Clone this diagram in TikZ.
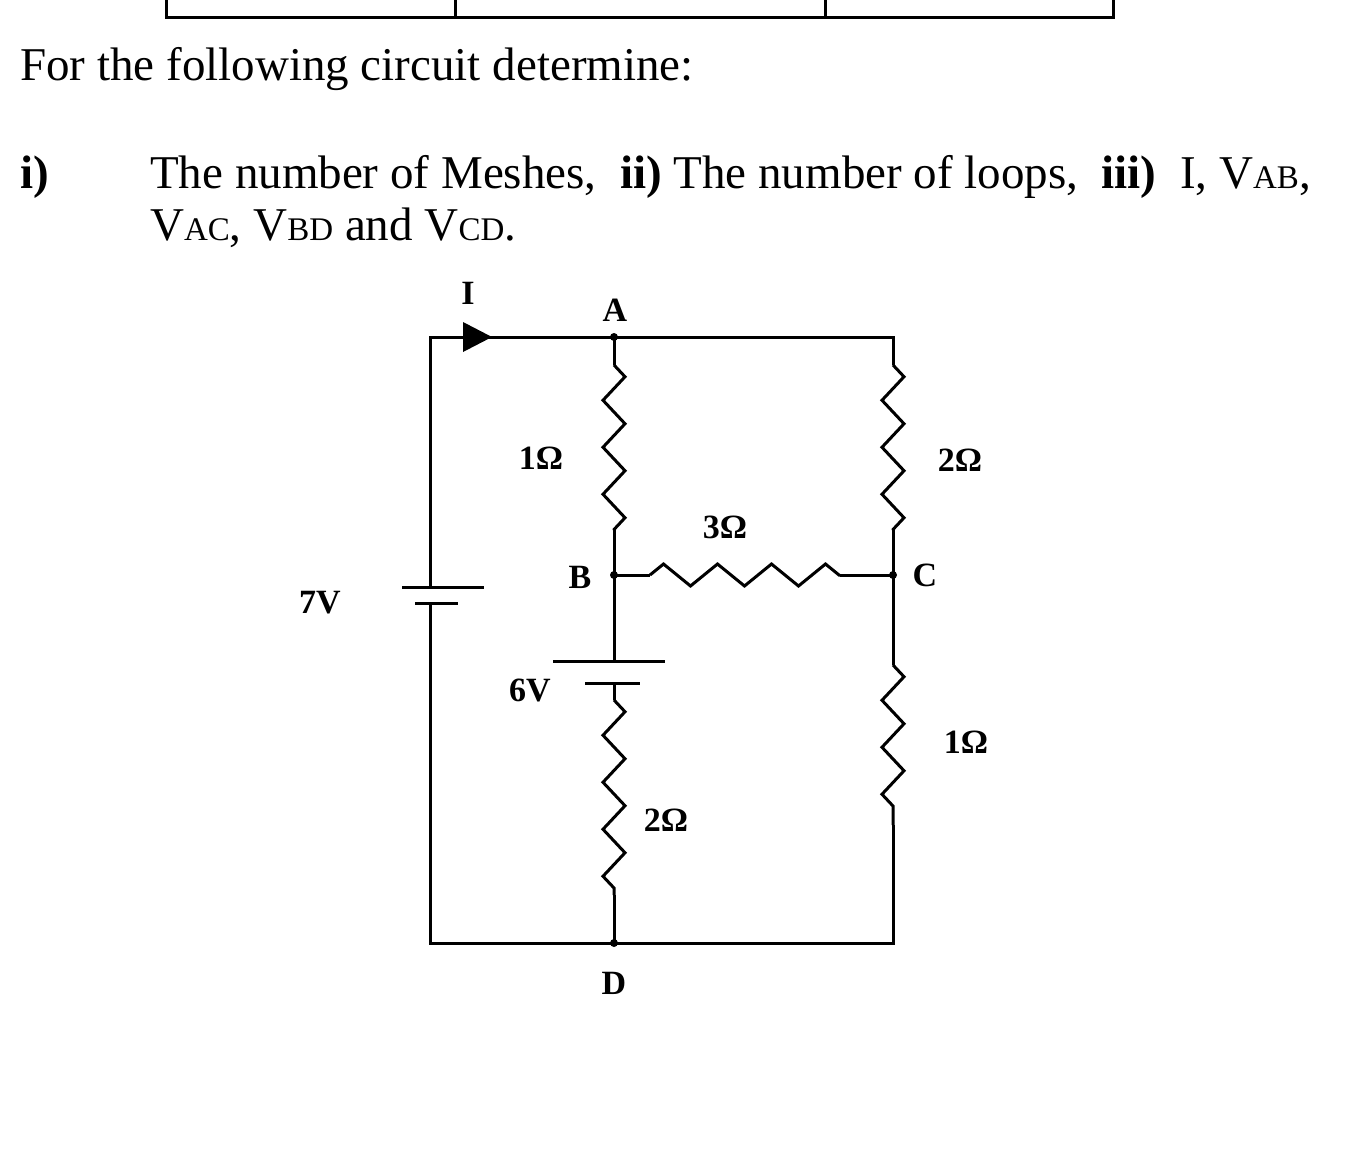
\documentclass[tikz,border=0pt]{standalone}
\usepackage{fontspec}
\setmainfont{Liberation Serif}
\usetikzlibrary{decorations.pathmorphing}
\begin{document}
\begin{tikzpicture}[x=1pt,y=-1pt,
  wire/.style={line width=3pt},
  res/.style={line width=3pt,decorate,decoration={zigzag,segment length=47pt,amplitude=11pt,pre length=0pt,post length=0pt}},
  lbl/.style={font=\fontsize{34}{36}\selectfont\bfseries,inner sep=0pt},
  txt/.style={font=\fontsize{47}{50}\selectfont,inner sep=0pt,anchor=base west},
  dot/.style={circle,fill,inner sep=0pt,minimum size=8pt}]
\useasboundingbox (0,0) rectangle (1368,1168);
% table remnant
\draw[line width=3pt] (166,-5) -- (166,17) -- (1113,17) -- (1113,-5);
\draw[line width=3pt] (455,-5) -- (455,17) (825,-5) -- (825,17);
% text
\node[txt] (t1) at (20,80) {For the following circuit determine:};
\node[txt] (t2) at (20,188) {\textbf{i)}};
\node[txt] (t3) at (150,188) {The number of Meshes,\ \ \textbf{ii)} The number of loops,\ \ \textbf{iii)}\ \ I, V{\fontsize{33}{33}\selectfont AB},};
\node[txt] (t4) at (150,240) {V{\fontsize{33}{33}\selectfont AC}, V{\fontsize{33}{33}\selectfont BD} and V{\fontsize{33}{33}\selectfont CD}.};
% nodes
\coordinate (TL) at (430,337);
\coordinate (A) at (614,337);
\coordinate (TR) at (893,337);
\coordinate (B) at (614,575);
\coordinate (C) at (893,575);
\coordinate (BL) at (430,943);
\coordinate (D) at (614,943);
\coordinate (BR) at (893,943);
% left branch with 7V battery
\coordinate (b7a) at (430,587);
\coordinate (b7b) at (430,603);
\draw[wire] (b7a) -- (TL) -- (TR) -- (893,365);
\draw[wire] (b7b) -- (BL) -- (BR) -- (893,825);
\draw[wire] (402,587) -- (484,587);
\draw[wire] (415,603) -- (458,603);
\fill (463,322) -- (492,337) -- (463,352) -- cycle;
% 1 ohm A-B
\coordinate (r1a) at (614,365); \coordinate (r1b) at (614,530);
\draw[wire] (A) -- (r1a) (r1b) -- (B);
\draw[res] (r1a) -- (r1b);
% 2 ohm right upper
\coordinate (r2a) at (893,365); \coordinate (r2b) at (893,530);
\draw[res] (r2a) -- (r2b);
\draw[wire] (r2b) -- (C) -- (893,665);
% 3 ohm
\coordinate (r3a) at (650,575); \coordinate (r3b) at (840,575);
\draw[wire] (B) -- (r3a) (r3b) -- (C);
\draw[res,decoration={zigzag,segment length=54pt,amplitude=11pt}] (r3a) -- (r3b);
% right lower 1 ohm
\draw[res] (893,665) -- (893,825);
% 6V battery
\draw[wire] (B) -- (614,661);
\draw[wire] (553,661) -- (665,661);
\draw[wire] (585,683) -- (640,683);
\draw[wire] (614,683) -- (614,700);
% 2 ohm lower
\draw[res] (614,700) -- (614,895);
\draw[wire] (614,895) -- (D);
% dots
\node[dot] (dA) at (A) {};
\node[dot] (dB) at (B) {};
\node[dot] (dC) at (C) {};
\node[dot] (dD) at (D) {};
% labels
\node[lbl] (lI) at (468,293) {I};
\node[lbl] (lA) at (615,310) {A};
\node[lbl] (lB) at (580,577) {B};
\node[lbl] (lC) at (925,575) {C};
\node[lbl] (lD) at (614,983) {D};
\node[lbl] (l7) at (320,603) {7V};
\node[lbl] (l6) at (530,690) {6V};
\node[lbl] (r1) at (541,458) {1Ω};
\node[lbl] (r2) at (960,460) {2Ω};
\node[lbl] (r3) at (725,527) {3Ω};
\node[lbl] (r4) at (966,742) {1Ω};
\node[lbl] (r5) at (666,820) {2Ω};
\end{tikzpicture}
\end{document}
